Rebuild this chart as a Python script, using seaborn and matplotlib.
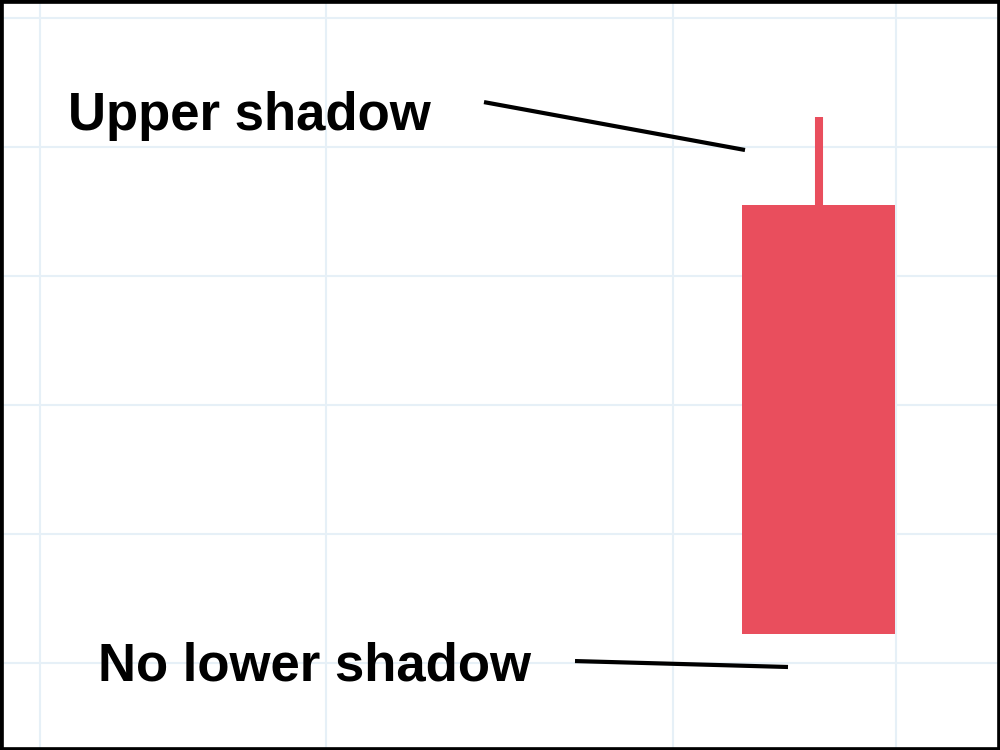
import matplotlib
matplotlib.use("Agg")
import matplotlib.pyplot as plt
import seaborn as sns
import pandas as pd

# one bearish candle: opens high, closes at its low (no lower shadow)
candle = pd.DataFrame({
    "x": [8.185],
    "open": [103.55],
    "high": [104.23],
    "low": [100.225],
    "close": [100.225],
})
body_width = 1.53
body_color = "#e94e5d"

x_grid = [0.40, 3.26, 6.73, 8.96]
y_grid = [100, 101, 102, 103, 104, 105]

# labels and their leader lines (x, y) in data units
labels = ["Upper shadow", "No lower shadow"]
label_pos = [(0.68, 104.13), (0.98, 99.868)]
leaders = [
    ((4.84, 104.345), (7.45, 103.974)),
    ((5.75, 100.015), (7.88, 99.969)),
]

sns.set_theme(style="whitegrid", rc={
    "grid.color": "#e6f0f7",
    "grid.linewidth": 1.5,
    "axes.edgecolor": "black",
})
plt.rcParams["font.family"] = ["Liberation Sans", "DejaVu Sans"]

fig = plt.figure(figsize=(10, 7.5), dpi=100)
ax = fig.add_axes([0, 0, 1, 1])

ax.set_xlim(0, 10)
ax.set_ylim(99.326, 105.136)
ax.set_xticks(x_grid)
ax.set_yticks(y_grid)
ax.tick_params(length=0, labelbottom=False, labelleft=False)
ax.set_axisbelow(True)
for s in ax.spines.values():
    s.set_linewidth(4.8)
    s.set_color("black")

# wick then body
ax.vlines(candle["x"], candle["low"], candle["high"], color=body_color,
          linewidth=5.8, zorder=2)
ax.bar(candle["x"], candle["open"] - candle["close"], bottom=candle["close"],
       width=body_width, color=body_color, linewidth=0, zorder=3)

for text, (tx, ty) in zip(labels, label_pos):
    ax.text(tx, ty, text, fontsize=38, fontweight="bold", color="black",
            ha="left", va="baseline", zorder=4)

for (x0, y0), (x1, y1) in leaders:
    ax.plot([x0, x1], [y0, y1], color="black", linewidth=3,
            solid_capstyle="butt", zorder=4)

fig.savefig("out.png", dpi=100)
